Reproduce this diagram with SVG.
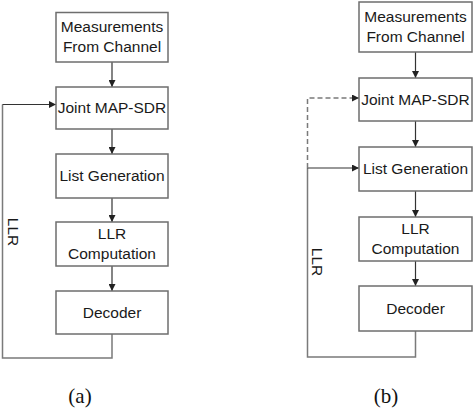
<svg xmlns="http://www.w3.org/2000/svg" width="474" height="411" viewBox="0 0 474 411">
<style>
.box{fill:#fff;stroke:#6e6e6e;stroke-width:1.5}
.t{font-family:"Liberation Sans",Arial,sans-serif;font-size:15.5px;fill:#1a1a1a;text-anchor:middle}
.c{fill:none;stroke:#333;stroke-width:1.2}
.fb{fill:none;stroke:#7a7a7a;stroke-width:1.5}
.dash{fill:none;stroke:#7a7a7a;stroke-width:1.5;stroke-dasharray:5,3}
.cap{font-family:"Liberation Serif","Times New Roman",serif;font-size:21px;fill:#111;text-anchor:middle}
</style>
<defs>
<marker id="ah" viewBox="0 0 8 8" refX="8" refY="4" markerWidth="7" markerHeight="7" markerUnits="userSpaceOnUse" orient="auto">
<path d="M0,0 L8,4 L0,8 z" fill="#222"/>
</marker>
</defs>
<rect width="474" height="411" fill="#fff"/>
<g id="connectors">
<line class="c" x1="112" y1="62" x2="112" y2="87" marker-end="url(#ah)"/>
<line class="c" x1="112" y1="129" x2="112" y2="154" marker-end="url(#ah)"/>
<line class="c" x1="112" y1="198" x2="112" y2="222" marker-end="url(#ah)"/>
<line class="c" x1="112" y1="266" x2="112" y2="291" marker-end="url(#ah)"/>
<polyline class="fb" points="112,334 112,358 2.5,358 2.5,104.5"/>
<line class="c" x1="2.5" y1="104.5" x2="56" y2="104.5" marker-end="url(#ah)"/>
<line class="c" x1="415.5" y1="52" x2="415.5" y2="78" marker-end="url(#ah)"/>
<line class="c" x1="415.5" y1="121" x2="415.5" y2="147" marker-end="url(#ah)"/>
<line class="c" x1="415.5" y1="191" x2="415.5" y2="217" marker-end="url(#ah)"/>
<line class="c" x1="415.5" y1="261" x2="415.5" y2="286" marker-end="url(#ah)"/>
<polyline class="fb" points="415.5,331 415.5,357 307.5,357 307.5,168"/>
<line class="c" x1="307.5" y1="168" x2="359" y2="168" marker-end="url(#ah)"/>
<polyline class="dash" points="307.5,168 307.5,98 359,98" marker-end="url(#ah)"/>
<text class="t" transform="translate(8,232) rotate(90)" x="0" y="0">LLR</text>
<text class="t" transform="translate(312,262) rotate(90)" x="0" y="0">LLR</text>
</g>
<g id="a-meas"><rect class="box" x="56" y="12.5" width="112" height="49.5"/><text class="t" x="112" y="32">Measurements</text><text class="t" x="112" y="52">From Channel</text></g>
<g id="a-joint"><rect class="box" x="56" y="87" width="112" height="42"/><text class="t" x="112" y="113">Joint MAP-SDR</text></g>
<g id="a-list"><rect class="box" x="56" y="154" width="112" height="44"/><text class="t" x="112" y="181">List Generation</text></g>
<g id="a-llr"><rect class="box" x="56" y="222" width="112" height="44"/><text class="t" x="112" y="239">LLR</text><text class="t" x="112" y="259">Computation</text></g>
<g id="a-dec"><rect class="box" x="56" y="291" width="112" height="43"/><text class="t" x="112" y="318">Decoder</text></g>
<g id="b-meas"><rect class="box" x="359" y="2" width="113" height="50"/><text class="t" x="415.5" y="22">Measurements</text><text class="t" x="415.5" y="42">From Channel</text></g>
<g id="b-joint"><rect class="box" x="359" y="78" width="113" height="43"/><text class="t" x="415.5" y="105">Joint MAP-SDR</text></g>
<g id="b-list"><rect class="box" x="359" y="147" width="113" height="44"/><text class="t" x="415.5" y="174">List Generation</text></g>
<g id="b-llr"><rect class="box" x="359" y="217" width="113" height="44"/><text class="t" x="415.5" y="234">LLR</text><text class="t" x="415.5" y="254">Computation</text></g>
<g id="b-dec"><rect class="box" x="359" y="286" width="113" height="45"/><text class="t" x="415.5" y="314">Decoder</text></g>
<text class="cap" x="80" y="403">(a)</text>
<text class="cap" x="386" y="403">(b)</text>
</svg>
